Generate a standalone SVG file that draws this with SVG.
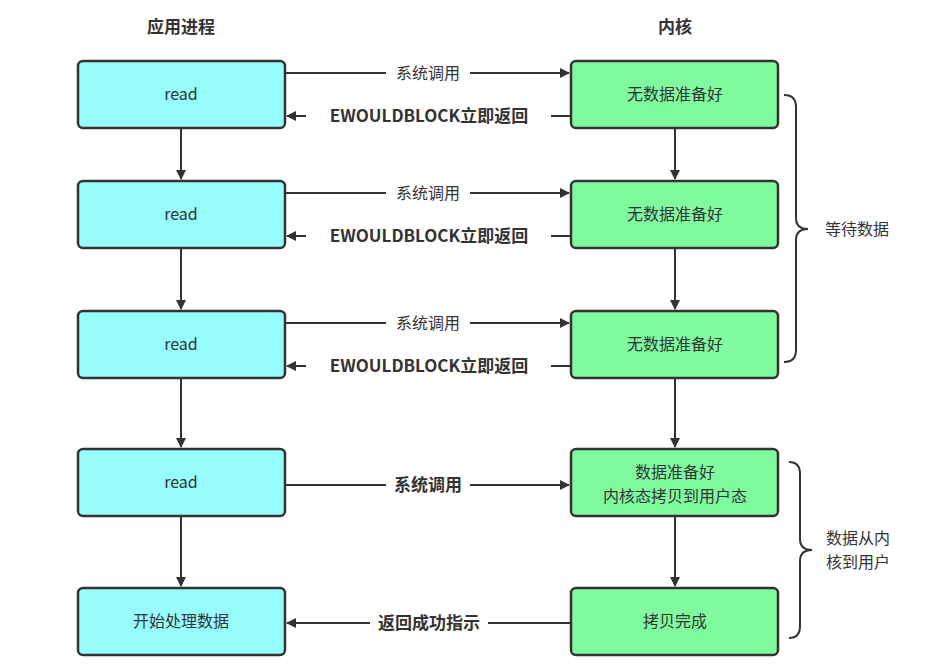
<svg xmlns="http://www.w3.org/2000/svg" width="943" height="668" viewBox="0 0 943 668">
<style>
text{font-family:"Noto Sans CJK SC","Liberation Sans",sans-serif;fill:#333;text-anchor:middle}
.l{fill:#97fcfc;stroke:#333;stroke-width:2.5}
.r{fill:#80fa9f;stroke:#333;stroke-width:2.5}
.c line,.c path{stroke:#333;stroke-width:2;fill:none}
.t{font-size:16px}
.lb{font-size:16px}
.b{font-size:17px;font-weight:bold}
</style>
<defs><marker id="a" viewBox="0 0 10 10" refX="9" refY="5" markerWidth="10" markerHeight="10" markerUnits="userSpaceOnUse" orient="auto"><path d="M0,0L10,5L0,10z" fill="#333"/></marker></defs>
<rect width="943" height="668" fill="#fff"/>
<text x="181" y="33" class="b">应用进程</text>
<text x="675" y="33" class="b">内核</text>
<g id="n1"><rect class="l" x="78" y="61" width="207" height="67" rx="5"/><text x="181" y="100" class="t">read</text></g>
<g id="n2"><rect class="l" x="78" y="181" width="207" height="67" rx="5"/><text x="181" y="220" class="t">read</text></g>
<g id="n3"><rect class="l" x="78" y="311" width="207" height="67" rx="5"/><text x="181" y="350" class="t">read</text></g>
<g id="n4"><rect class="l" x="78" y="449" width="207" height="67" rx="5"/><text x="181" y="488" class="t">read</text></g>
<g id="n5"><rect class="l" x="78" y="588" width="207" height="67" rx="5"/><text x="181" y="627" class="t">开始处理数据</text></g>
<g id="k1"><rect class="r" x="571" y="61" width="207" height="67" rx="5"/><text x="675" y="100" class="t">无数据准备好</text></g>
<g id="k2"><rect class="r" x="571" y="181" width="207" height="67" rx="5"/><text x="675" y="220" class="t">无数据准备好</text></g>
<g id="k3"><rect class="r" x="571" y="311" width="207" height="67" rx="5"/><text x="675" y="350" class="t">无数据准备好</text></g>
<g id="k4"><rect class="r" x="571" y="449" width="207" height="67" rx="5"/><text x="675" y="478" class="t">数据准备好</text><text x="675" y="502" class="t">内核态拷贝到用户态</text></g>
<g id="k5"><rect class="r" x="571" y="588" width="207" height="67" rx="5"/><text x="675" y="627" class="t">拷贝完成</text></g>
<g class="c">
<line x1="181" y1="128" x2="181" y2="179" marker-end="url(#a)"/>
<line x1="181" y1="248" x2="181" y2="309" marker-end="url(#a)"/>
<line x1="181" y1="378" x2="181" y2="447" marker-end="url(#a)"/>
<line x1="181" y1="516" x2="181" y2="586" marker-end="url(#a)"/>
<line x1="675" y1="128" x2="675" y2="179" marker-end="url(#a)"/>
<line x1="675" y1="248" x2="675" y2="309" marker-end="url(#a)"/>
<line x1="675" y1="378" x2="675" y2="447" marker-end="url(#a)"/>
<line x1="675" y1="516" x2="675" y2="586" marker-end="url(#a)"/>
<line x1="285" y1="73" x2="569" y2="73" marker-end="url(#a)"/>
<line x1="571" y1="116" x2="287" y2="116" marker-end="url(#a)"/>
<line x1="285" y1="193" x2="569" y2="193" marker-end="url(#a)"/>
<line x1="571" y1="236" x2="287" y2="236" marker-end="url(#a)"/>
<line x1="285" y1="323" x2="569" y2="323" marker-end="url(#a)"/>
<line x1="571" y1="366" x2="287" y2="366" marker-end="url(#a)"/>
<line x1="285" y1="485" x2="569" y2="485" marker-end="url(#a)"/>
<line x1="571" y1="623" x2="287" y2="623" marker-end="url(#a)"/>
<path d="M784,95 Q796,95 796,107 L796,218 Q796,229 808,229 Q796,229 796,240 L796,350 Q796,362 784,362"/>
<path d="M789,462 Q800,462 800,474 L800,539 Q800,550 812,550 Q800,550 800,561 L800,626 Q800,638 789,638"/>
</g>
<g id="labels">
<rect x="386" y="63" width="84" height="20" fill="#fff"/><text x="428" y="79" class="lb">系统调用</text>
<rect x="386" y="183" width="84" height="20" fill="#fff"/><text x="428" y="199" class="lb">系统调用</text>
<rect x="386" y="313" width="84" height="20" fill="#fff"/><text x="428" y="329" class="lb">系统调用</text>
<rect x="386" y="475" width="84" height="20" fill="#fff"/><text x="428" y="491" class="b">系统调用</text>
<rect x="306" y="105" width="245" height="22" fill="#fff"/><text x="429" y="122" class="b">EWOULDBLOCK立即返回</text>
<rect x="306" y="225" width="245" height="22" fill="#fff"/><text x="429" y="242" class="b">EWOULDBLOCK立即返回</text>
<rect x="306" y="355" width="245" height="22" fill="#fff"/><text x="429" y="372" class="b">EWOULDBLOCK立即返回</text>
<rect x="370" y="612" width="118" height="22" fill="#fff"/><text x="429" y="629" class="b">返回成功指示</text>
<text x="857" y="235" class="lb">等待数据</text>
<text x="858" y="544" class="lb">数据从内</text>
<text x="858" y="568" class="lb">核到用户</text>
</g>
</svg>
